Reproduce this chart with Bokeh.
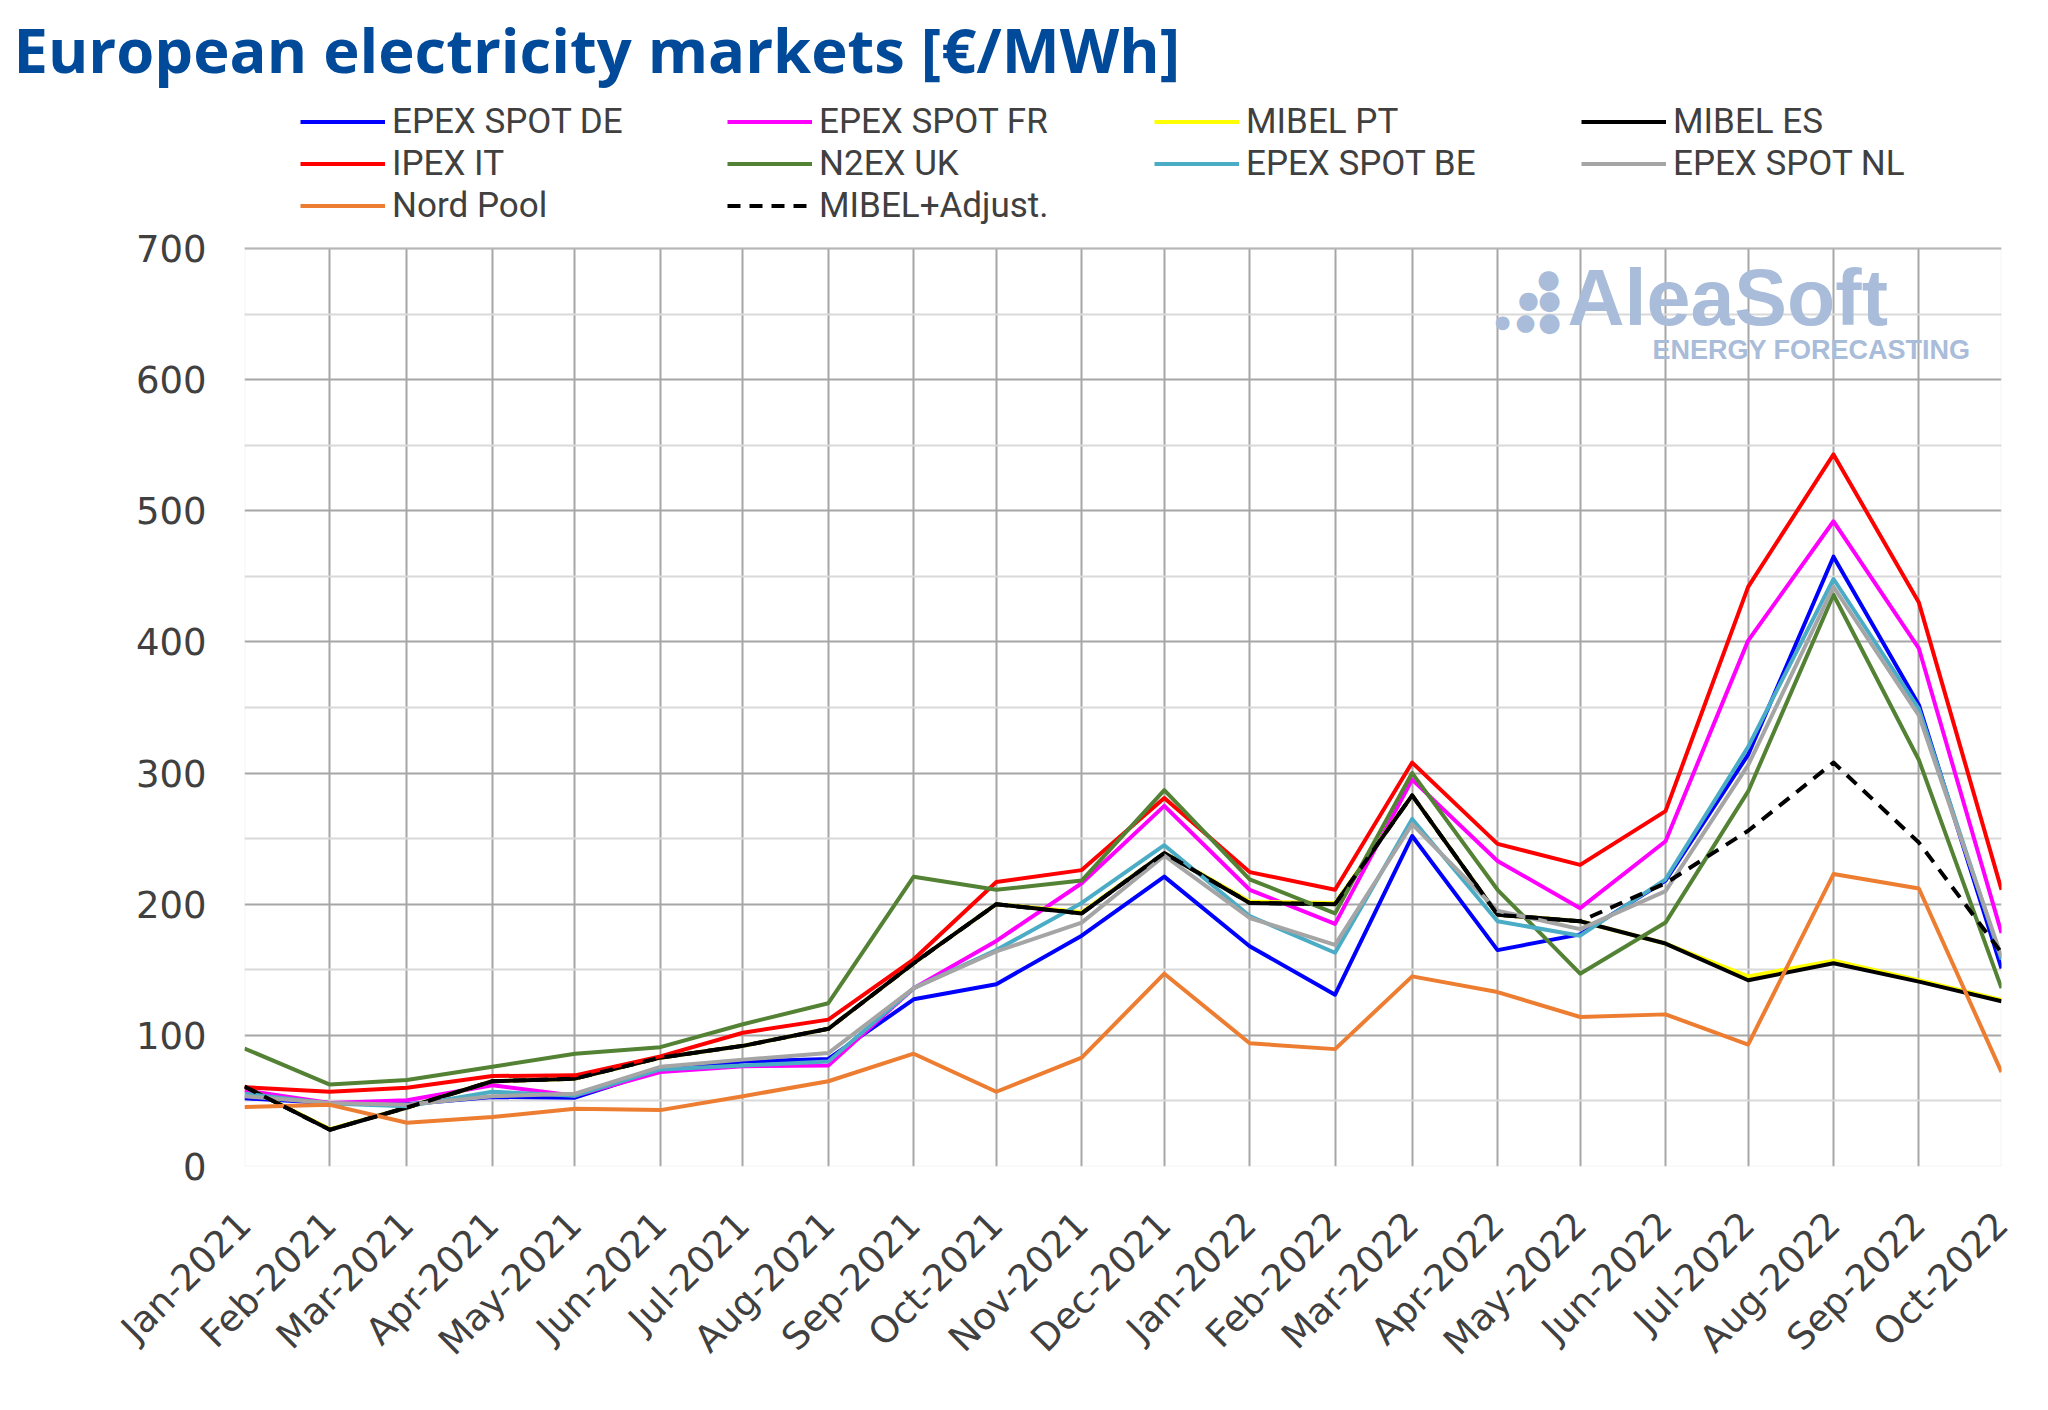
import pandas as pd
from math import pi
from bokeh.plotting import figure
from bokeh.models import (Range1d, FixedTicker, DatetimeTickFormatter,
                          Legend, LegendItem, Label, BoxAnnotation)
from bokeh.embed import file_html
from bokeh.resources import INLINE

# ---------------- data ----------------
months = ["2021-01-01", "2021-02-01", "2021-03-01", "2021-04-01", "2021-05-01", "2021-06-01",
          "2021-07-01", "2021-08-01", "2021-09-01", "2021-10-01", "2021-11-01", "2021-12-01",
          "2022-01-01", "2022-02-01", "2022-03-01", "2022-04-01", "2022-05-01", "2022-06-01",
          "2022-07-01", "2022-08-01", "2022-09-01", "2022-10-01"]
tick_labels = ["Jan-2021", "Feb-2021", "Mar-2021", "Apr-2021", "May-2021", "Jun-2021",
               "Jul-2021", "Aug-2021", "Sep-2021", "Oct-2021", "Nov-2021", "Dec-2021",
               "Jan-2022", "Feb-2022", "Mar-2022", "Apr-2022", "May-2022", "Jun-2022",
               "Jul-2022", "Aug-2022", "Sep-2022", "Oct-2022"]
y_ticks = [0, 100, 200, 300, 400, 500, 600, 700]
y_minor = [50, 150, 250, 350, 450, 550, 650]

epex_de = [52, 48.5, 47.5, 53, 52.5, 73.5, 80, 82, 127.5, 139, 176, 221,
           168, 131, 252, 165, 177, 218, 314, 465, 352, 151]
epex_fr = [58, 48.5, 50.5, 62, 54, 72, 76.5, 77, 136, 172, 216, 275,
           211, 185, 295, 233, 197, 248, 401, 492, 395, 178]
mibel_pt = [61, 28.5, 45, 65, 67, 83, 92, 105, 155, 200, 194, 239,
            202, 201, 283, 192, 187, 170, 145, 157, 142, 127]
mibel_es = [61, 28, 45, 65, 67, 83, 92, 105, 155, 200, 193, 239,
            201, 200, 283, 192, 187, 170, 142, 155, 141, 126]
ipex_it = [60.5, 57, 60, 69, 69.5, 84, 102, 112, 158, 217, 226, 281,
           224.5, 211, 308, 246, 230, 271, 442, 543, 430, 211]
n2ex_uk = [90, 62.5, 66, 76, 86, 91, 108.5, 124.5, 221, 211, 218, 287,
           219, 193, 300, 211, 147, 186, 286, 436, 310, 136]
epex_be = [55.5, 48, 46, 57, 54, 74, 77, 80, 136, 165, 201, 245,
           191, 163, 265, 187, 176, 219, 320, 448, 349, 158]
epex_nl = [53.5, 48.5, 47, 53.5, 55.5, 76, 81.5, 86.5, 136, 164, 186, 237,
           189.5, 169, 261, 195, 181, 210, 306, 442, 344, 160]
nord_pool = [45.4, 47, 33.4, 37.8, 44, 43, 53.6, 65, 86, 57, 83, 147,
             94, 89.5, 145, 133, 114, 116, 93, 223, 212, 72]
mibel_adj = [61, 28, 45, 65, 67, 83, 92, 105, 155, 200, 193, 239,
             201, 200, 283, 192, 187, 216, 256, 308, 247, 163]

series_names = ["EPEX SPOT DE", "EPEX SPOT FR", "MIBEL PT", "MIBEL ES", "IPEX IT",
                "N2EX UK", "EPEX SPOT BE", "EPEX SPOT NL", "Nord Pool", "MIBEL+Adjust."]
series_values = [epex_de, epex_fr, mibel_pt, mibel_es, ipex_it,
                 n2ex_uk, epex_be, epex_nl, nord_pool, mibel_adj]
series_colors = ["#0000FF", "#FF00FF", "#FFFF00", "#000000", "#FF0000",
                 "#548235", "#4BACC6", "#A5A5A5", "#ED7D31", "#000000"]
series_dash = ["solid"] * 9 + ["13 9"]

# ---------------- figure ----------------
dates = pd.to_datetime(months)
tick_ms = [float(v) for v in (dates.asi8 // 10**6)]

W, H = 2048, 1410
L, R, T, B = 244, 47, 94, 244
frame_h = H - T - B            # frame height in px
plot_px = 918                  # pixels used by 0..700
y_top = y_ticks[-1] * frame_h / plot_px
fb = H - B                     # frame bottom in canvas pixels

p = figure(width=W, height=H, output_backend="svg", toolbar_location=None,
           x_axis_type="datetime",
           x_range=Range1d(dates[0], dates[-1]), y_range=Range1d(0, y_top),
           min_border_left=L, min_border_right=R, min_border_top=T, min_border_bottom=B)
p.background_fill_color = "white"
p.border_fill_color = "white"
p.outline_line_color = None

# title
p.title.text = "European electricity markets [€/MWh]"
p.title.align = "left"
p.title.offset = -231
p.title.text_font = "Open Sans"
p.title.text_font_style = "bold"
p.title.text_font_size = "61.5px"
p.title.text_color = "#004a99"
p.title.standoff = 8

# axes
xa = p.xaxis[0]
xa.ticker = FixedTicker(ticks=tick_ms)
xa.formatter = DatetimeTickFormatter(days="%b-%Y", months="%b-%Y", years="%b-%Y")
xa.major_label_overrides = {t: lab for t, lab in zip(tick_ms, tick_labels)}
xa.major_label_orientation = pi / 4
xa.major_label_text_font = "DejaVu Sans"
xa.major_label_text_font_size = "37px"
xa.major_label_text_color = "#404040"
xa.major_label_standoff = 46
xa.axis_line_color = None
xa.major_tick_line_color = None
xa.minor_tick_line_color = None

ya = p.yaxis[0]
ya.ticker = FixedTicker(ticks=y_ticks, minor_ticks=y_minor)
ya.major_label_text_font = "DejaVu Sans"
ya.major_label_text_font_size = "37px"
ya.major_label_text_color = "#404040"
ya.major_label_standoff = 32
ya.axis_line_color = None
ya.major_tick_line_color = None
ya.minor_tick_line_color = None

# grids
p.xgrid.grid_line_color = "#a6a6a6"
p.xgrid.grid_line_width = 2
p.xgrid.bounds = (tick_ms[1] - 1, tick_ms[-2] + 1)
p.xgrid.cross_bounds = (y_ticks[0], y_ticks[-1])
p.ygrid.grid_line_color = "#a6a6a6"
p.ygrid.grid_line_width = 2
p.ygrid.minor_grid_line_color = "#d9d9d9"
p.ygrid.minor_grid_line_width = 2
p.ygrid.bounds = (y_minor[0] - 10, y_minor[-1] + 10)

# plot-area border
p.add_layout(BoxAnnotation(left=tick_ms[0], right=tick_ms[-1],
                           bottom=y_ticks[0], top=y_ticks[-1],
                           fill_alpha=0, line_color="#d9d9d9", line_width=2,
                           level="underlay"))

# lines
items = []
for name, vals, col, dash in zip(series_names, series_values, series_colors, series_dash):
    r = p.line(dates, vals, line_color=col, line_width=4, line_dash=dash,
               line_join="round")
    items.append(LegendItem(label=name, renderers=[r]))

legend = Legend(items=items, orientation="horizontal", ncols=4,
                location=(300 - L, fb - 226), glyph_width=85, glyph_height=41,
                label_height=41, label_width=334, label_standoff=7,
                spacing=1, padding=0, margin=0,
                border_line_color=None, background_fill_alpha=0,
                label_text_font="Roboto", label_text_font_size="35px",
                label_text_color="#404040")
p.add_layout(legend)

# watermark
wm = "#a9bcd9"
p.add_layout(Label(x=1567 - L, y=fb - 326 + 29, x_units="screen", y_units="screen",
                   text="AleaSoft", text_font="Liberation Sans", text_font_style="bold",
                   text_font_size="79px", text_color=wm, text_baseline="alphabetic"))
p.add_layout(Label(x=1652 - L, y=fb - 359 + 10, x_units="screen", y_units="screen",
                   text="ENERGY FORECASTING", text_font="Liberation Sans",
                   text_font_style="bold", text_font_size="27px", text_color=wm,
                   text_baseline="alphabetic"))
dots = [(1548, 278, 26), (1528, 299, 24), (1549, 299, 26),
        (1502, 321, 18), (1525, 321, 23), (1549, 321, 26)]
for dx, dy, fs in dots:
    p.add_layout(Label(x=dx - L, y=fb - dy, x_units="screen", y_units="screen",
                       text="●", text_font="DejaVu Sans", text_font_size=f"{fs}px",
                       text_color=wm, text_align="center", text_baseline="middle"))

open("out.html", "w").write(file_html(p, INLINE))
